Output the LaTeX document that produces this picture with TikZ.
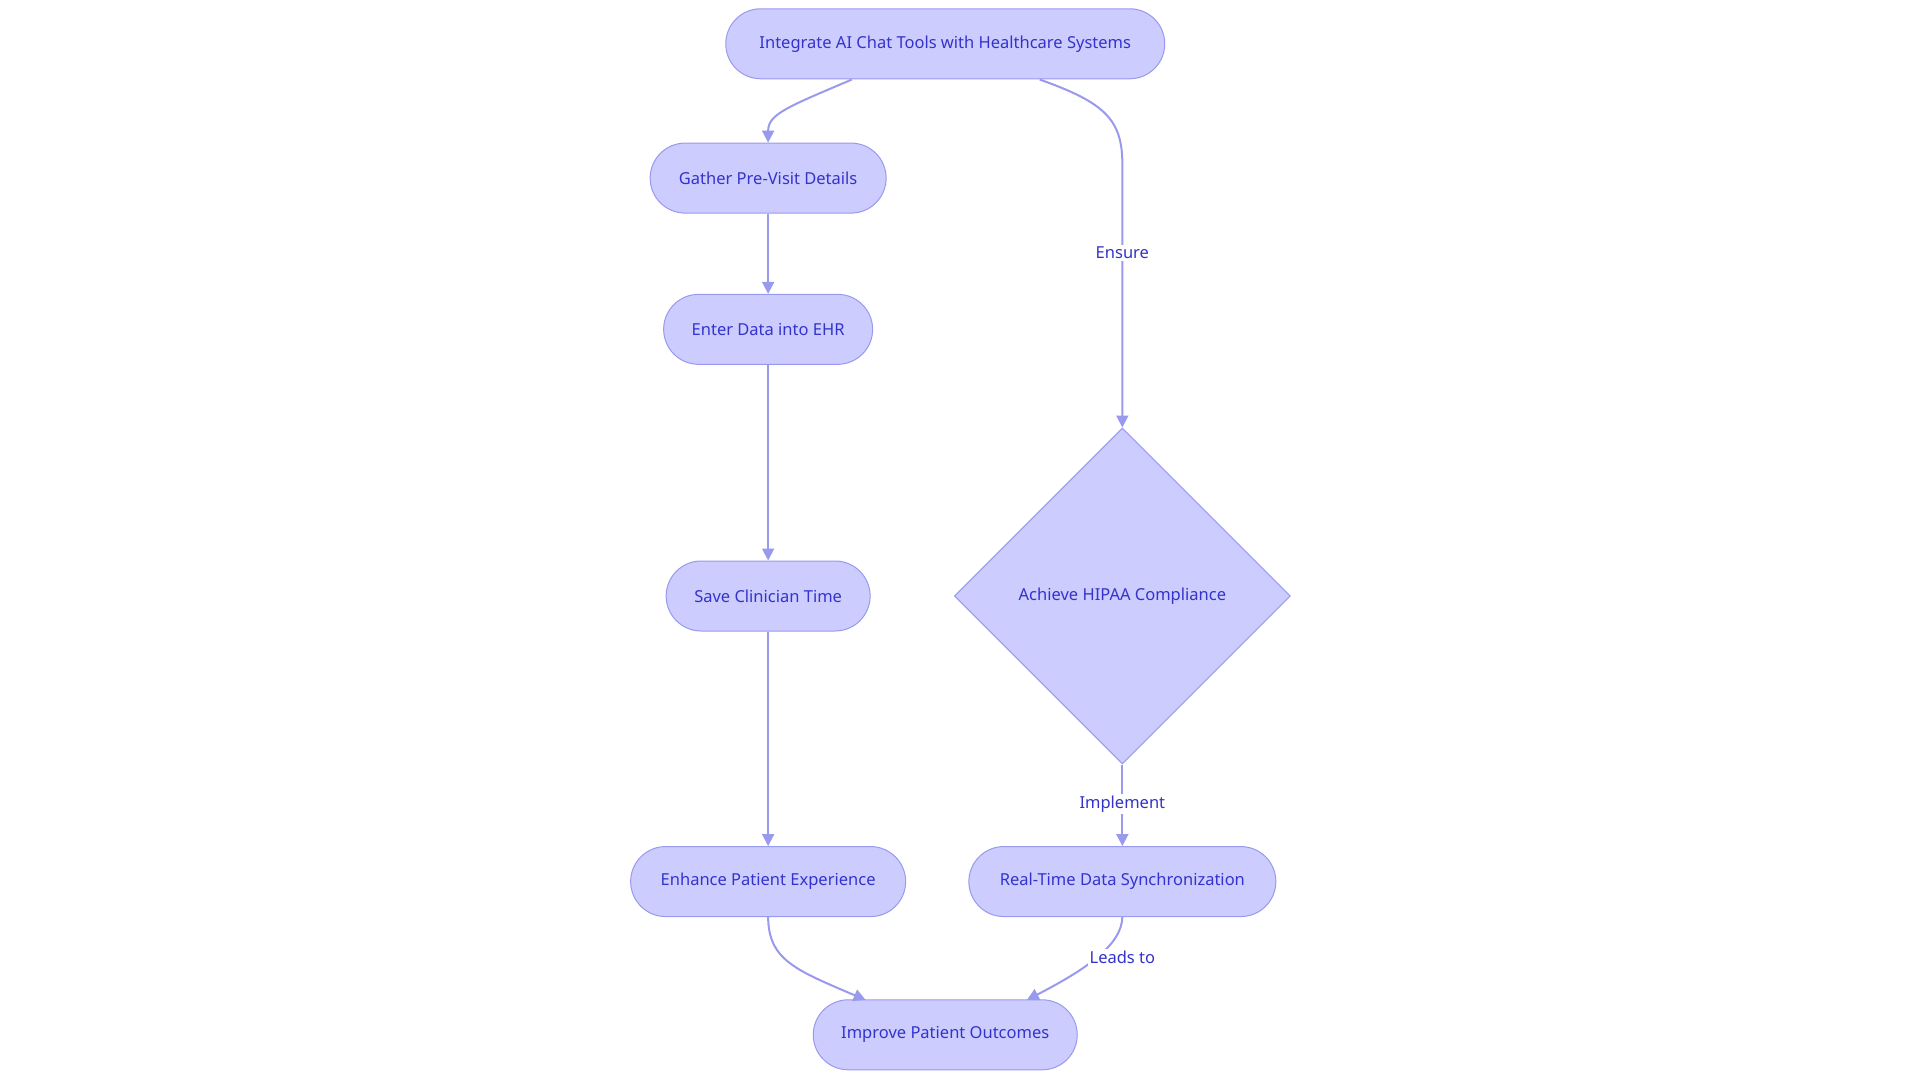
\documentclass[tikz,border=0pt]{standalone}
\usepackage{fontspec}
\setmainfont{Noto Sans}
\usetikzlibrary{shapes.geometric,arrows.meta}
\definecolor{nfill}{HTML}{CCCCFF}
\definecolor{nline}{HTML}{9999EE}
\definecolor{ntext}{HTML}{3333CC}
\begin{document}
\begin{tikzpicture}[x=1pt,y=-1pt,
  box/.style={draw=nline,fill=nfill,rounded corners=35pt,minimum height=70pt,text=ntext,font=\fontsize{16.5}{19}\selectfont,line width=1pt},
  edge/.style={draw=nline,line width=2pt,-{Triangle[length=12pt,width=12pt]}},
  lbl/.style={fill=white,text=ntext,font=\fontsize{16.5}{19}\selectfont,inner sep=2pt}]
\useasboundingbox (0,0) rectangle (1920,1083);
\begin{scope}[x=0.995pt,y=-0.995pt]
\node[box,minimum width=439pt] (top) at (950,44) {Integrate AI Chat Tools with Healthcare Systems};
\node[box,minimum width=236pt] (gather) at (772,179) {Gather Pre-Visit Details};
\node[box,minimum width=209pt] (enter) at (772,331) {Enter Data into EHR};
\node[box,minimum width=204pt] (save) at (772,599) {Save Clinician Time};
\node[box,minimum width=275pt] (enh) at (772,886) {Enhance Patient Experience};
\node[box,minimum width=264pt] (imp) at (950,1040) {Improve Patient Outcomes};
\node[box,minimum width=307pt] (rt) at (1128,886) {Real-Time Data Synchronization};
\node[diamond,draw=nline,fill=nfill,line width=1pt,minimum width=336pt,minimum height=336pt,inner sep=0pt,text=ntext,font=\fontsize{16.5}{19}\selectfont] (hipaa) at (1128,599) {Achieve HIPAA Compliance};
\coordinate (t1) at (856,80);
\coordinate (t2) at (1045,80);
\draw[edge] (t1) .. controls (790,108) and (772,115) .. (gather.north);
\draw[edge] (gather) -- (enter);
\draw[edge] (enter) -- (save);
\draw[edge] (save) -- (enh);
\draw[edge] (t2) .. controls (1110,103) and (1128,120) .. (1128,165) -- (hipaa.north);
\node[lbl] (l1) at (1128,254) {Ensure};
\draw[edge] (hipaa.south) -- (rt.north);
\node[lbl] (l2) at (1128,808) {Implement};
\coordinate (e1) at (772,921);
\coordinate (e2) at (870,1005);
\draw[edge] (e1) .. controls (772,965) and (800,975) .. (e2);
\coordinate (r1) at (1128,921);
\coordinate (r2) at (1032,1005);
\draw[edge] (r1) .. controls (1128,950) and (1090,975) .. (r2);
\node[lbl] (l3) at (1128,962) {Leads to};
\end{scope}
\end{tikzpicture}
\end{document}
